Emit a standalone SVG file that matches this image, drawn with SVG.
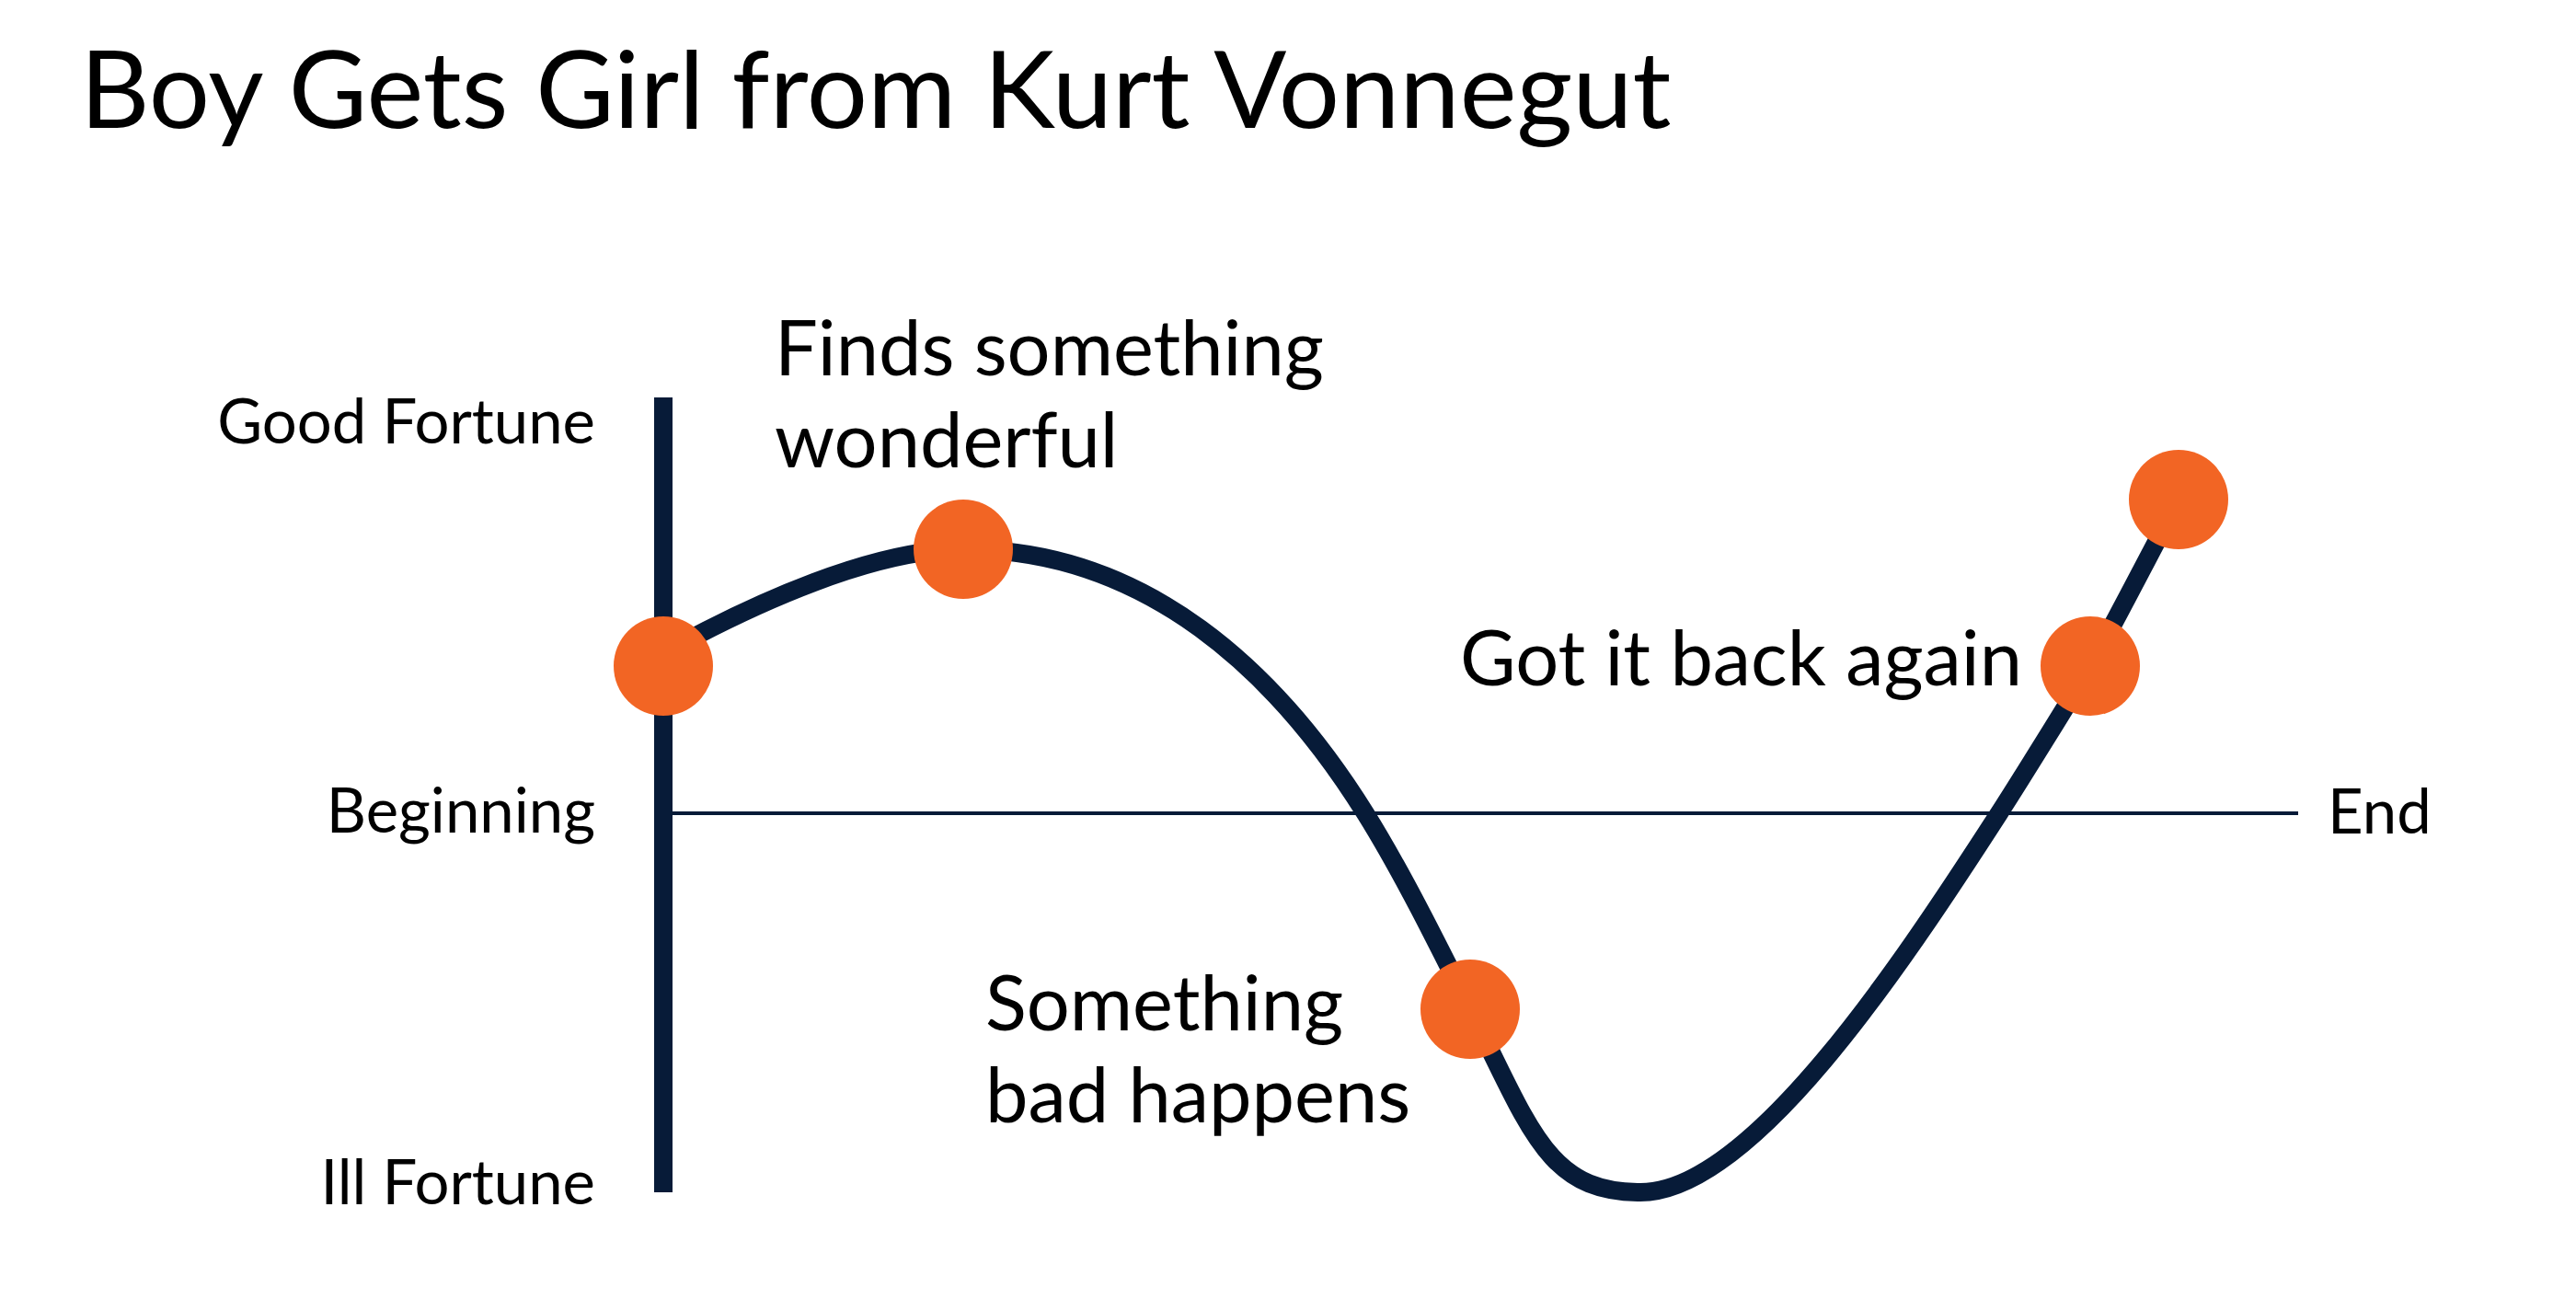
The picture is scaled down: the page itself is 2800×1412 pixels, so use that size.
<svg xmlns="http://www.w3.org/2000/svg" width="2800" height="1412" viewBox="0 0 2800 1412">
  <style>
    text { font-family: Lato, "Liberation Sans", sans-serif; fill: #000000; }
    .title { font-size: 117px; }
    .axis-label { font-size: 67px; }
    .event-label { font-size: 83px; }
    .dot { fill: #F26524; }
    .navy { stroke: #071B38; fill: none; }
  </style>
  <rect width="2800" height="1412" fill="#FFFFFF"/>

  <g id="title">
    <text class="title" x="87" y="139">Boy Gets Girl from Kurt Vonnegut</text>
  </g>

  <g id="axes">
    <rect id="fortune-axis" x="711" y="432" width="20" height="864" fill="#071B38"/>
    <line id="time-axis" class="navy" x1="731" y1="884" x2="2498" y2="884" stroke-width="4"/>
  </g>

  <g id="axis-labels">
    <text id="label-good" class="axis-label" x="647" y="482" text-anchor="end">Good Fortune</text>
    <text id="label-beginning" class="axis-label" x="647" y="905" text-anchor="end">Beginning</text>
    <text id="label-ill" class="axis-label" x="647" y="1309" text-anchor="end">Ill Fortune</text>
    <text id="label-end" class="axis-label" x="2530" y="906">End</text>
  </g>

  <g id="connectors">
    <path id="story-curve" class="navy" stroke-width="20" stroke-linecap="round" stroke-linejoin="round"
      d="M 721 710
         C 821 655, 950 597, 1047 597
         C 1247 597, 1388.6 731.4, 1484 884
         C 1523.8 947.6, 1564.5 1030, 1598 1097
         C 1665 1231.1, 1683 1296, 1783 1296
         C 1903 1296, 2064.6 1052, 2173 884
         C 2192 854.6, 2254.5 754.3, 2272 724
         C 2289.5 693.7, 2351.7 574, 2368 543"/>
  </g>

  <g id="node-start">
    <circle class="dot" cx="721" cy="724" r="54"/>
  </g>
  <g id="node-finds">
    <circle class="dot" cx="1047" cy="597" r="54"/>
    <text class="event-label" x="842" y="408">Finds something</text>
    <text class="event-label" x="842" y="508">wonderful</text>
  </g>
  <g id="node-bad">
    <circle class="dot" cx="1598" cy="1097" r="54"/>
    <text class="event-label" x="1071" y="1120">Something</text>
    <text class="event-label" x="1071" y="1220">bad happens</text>
  </g>
  <g id="node-back">
    <circle class="dot" cx="2272" cy="724" r="54"/>
    <text class="event-label" x="1587" y="745">Got it back again</text>
  </g>
  <g id="node-end">
    <circle class="dot" cx="2368" cy="543" r="54"/>
  </g>
</svg>
